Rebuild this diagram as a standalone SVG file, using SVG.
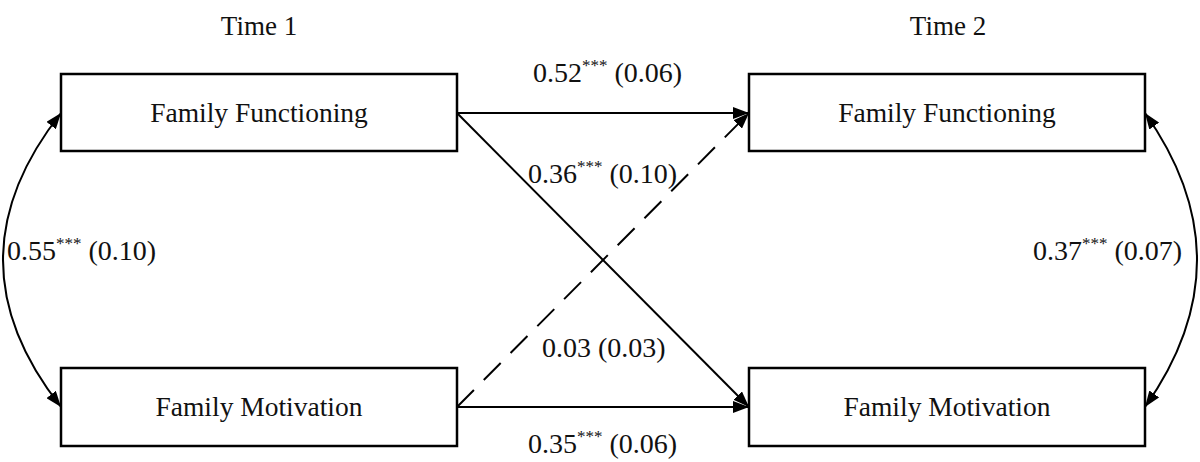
<svg xmlns="http://www.w3.org/2000/svg" width="1200" height="462" viewBox="0 0 1200 462">
<style>
.box{fill:#fff;stroke:#000;stroke-width:2.5}
.t{font-family:"Liberation Serif","Times New Roman",serif;font-size:27px;fill:#111}
.l{font-size:28px}
.nt{font-family:"Liberation Serif","Times New Roman",serif;font-size:27.5px;fill:#111;text-anchor:middle}
.sup{font-size:17px}
.e{fill:none;stroke:#000;stroke-width:2}
.d{stroke-dasharray:24 14}
</style>
<defs>
<marker id="ah" viewBox="0 0 16 12" refX="16" refY="6" markerWidth="16" markerHeight="12" markerUnits="userSpaceOnUse" orient="auto-start-reverse">
<path d="M0,0 L16,6 L0,12 Z" fill="#000"/>
</marker>
</defs>
<rect width="1200" height="462" fill="#fff"/>
<g id="headers">
<text class="t" x="259" y="35" text-anchor="middle">Time 1</text>
<text class="t" x="948" y="35" text-anchor="middle">Time 2</text>
</g>
<g id="connectors">
<path class="e" d="M457,113 L749,113" marker-end="url(#ah)"/>
<path class="e" d="M457,407 L749,407" marker-end="url(#ah)"/>
<path class="e" d="M457,113 L749,407" marker-end="url(#ah)"/>
<path class="e d" d="M457,407 L749,113" marker-end="url(#ah)"/>
<path class="e" d="M61,113 Q-55,260 61,407" marker-start="url(#ah)" marker-end="url(#ah)"/>
<path class="e" d="M1145,113 Q1249,260 1145,407" marker-start="url(#ah)" marker-end="url(#ah)"/>
</g>
<g id="labels">
<text class="t l" x="533" y="82">0.52<tspan class="sup" dy="-11">***</tspan><tspan dy="11"> (0.06)</tspan></text>
<text class="t l" x="528" y="183">0.36<tspan class="sup" dy="-11">***</tspan><tspan dy="11"> (0.10)</tspan></text>
<text class="t l" x="542" y="357">0.03 (0.03)</text>
<text class="t l" x="528" y="453">0.35<tspan class="sup" dy="-11">***</tspan><tspan dy="11"> (0.06)</tspan></text>
<text class="t l" x="7" y="260">0.55<tspan class="sup" dy="-11">***</tspan><tspan dy="11"> (0.10)</tspan></text>
<text class="t l" x="1033" y="260">0.37<tspan class="sup" dy="-11">***</tspan><tspan dy="11"> (0.07)</tspan></text>
</g>
<g id="ff1">
<rect class="box" x="61" y="74" width="396" height="77"/>
<text class="nt" x="259" y="122">Family Functioning</text>
</g>
<g id="fm1">
<rect class="box" x="61" y="368" width="396" height="78"/>
<text class="nt" x="259" y="416">Family Motivation</text>
</g>
<g id="ff2">
<rect class="box" x="749" y="74" width="396" height="77"/>
<text class="nt" x="947" y="122">Family Functioning</text>
</g>
<g id="fm2">
<rect class="box" x="749" y="368" width="396" height="78"/>
<text class="nt" x="947" y="416">Family Motivation</text>
</g>
</svg>
